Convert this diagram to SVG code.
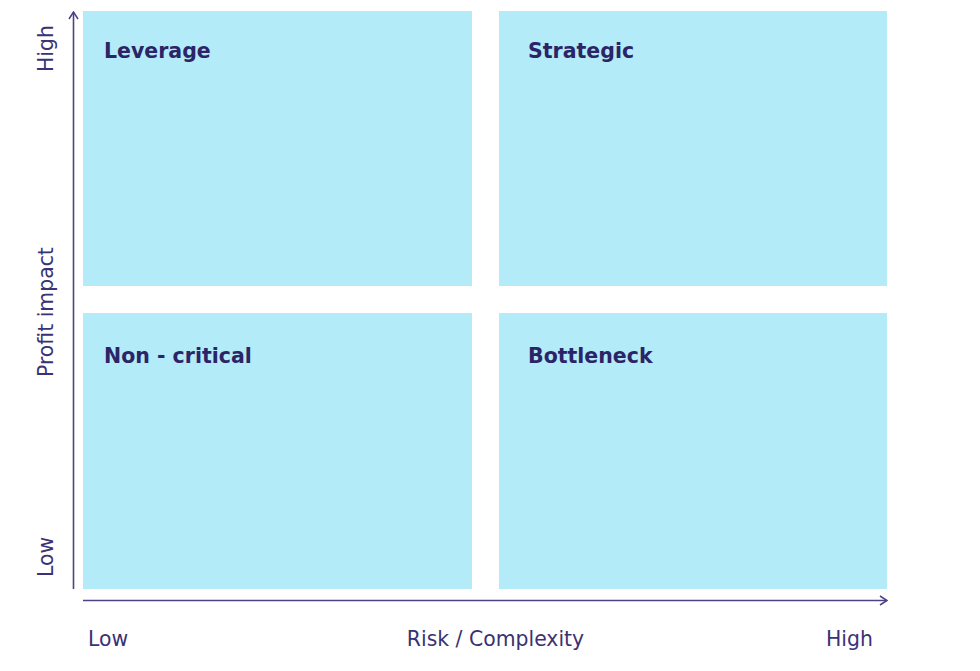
<svg xmlns="http://www.w3.org/2000/svg" width="980" height="671" viewBox="0 0 980 671">
<style>
.box{fill:#b3ebf9}
.lbl{font-family:"DejaVu Sans",Verdana,sans-serif;font-weight:bold;font-size:20.5px;fill:#2b2466}
.ax{font-family:"DejaVu Sans",Verdana,sans-serif;font-size:20.4px;fill:#3a3274}
.axis{stroke:#4b4382;stroke-width:1.6;fill:none}
</style>
<defs>
<marker id="arr" viewBox="0 0 12 12" refX="11" refY="6" markerWidth="12" markerHeight="12" markerUnits="userSpaceOnUse" orient="auto">
<path d="M4,1.5 L11,6 L4,10.5" fill="none" stroke="#4b4382" stroke-width="1.5"/>
</marker>
</defs>
<rect width="980" height="671" fill="#ffffff"/>
<g id="leverage"><rect class="box" x="83" y="11" width="389" height="275"/><text class="lbl" x="104" y="58">Leverage</text></g>
<g id="strategic"><rect class="box" x="499" y="11" width="388" height="275"/><text class="lbl" x="528" y="58">Strategic</text></g>
<g id="noncritical"><rect class="box" x="83" y="313" width="389" height="276"/><text class="lbl" x="104" y="363">Non - critical</text></g>
<g id="bottleneck"><rect class="box" x="499" y="313" width="388" height="276"/><text class="lbl" x="528" y="363">Bottleneck</text></g>
<g id="connectors">
<line class="axis" x1="73.5" y1="589" x2="73.5" y2="12" marker-end="url(#arr)"/>
<line class="axis" x1="83" y1="600.5" x2="887" y2="600.5" marker-end="url(#arr)"/>
</g>
<g id="labels">
<text class="ax" x="88" y="646">Low</text>
<text class="ax" x="495.5" y="646" text-anchor="middle">Risk / Complexity</text>
<text class="ax" x="826" y="646">High</text>
<text class="ax" transform="translate(53,72) rotate(-90)">High</text>
<text class="ax" transform="translate(53,377) rotate(-90)">Profit impact</text>
<text class="ax" transform="translate(53,577) rotate(-90)">Low</text>
</g>
</svg>
